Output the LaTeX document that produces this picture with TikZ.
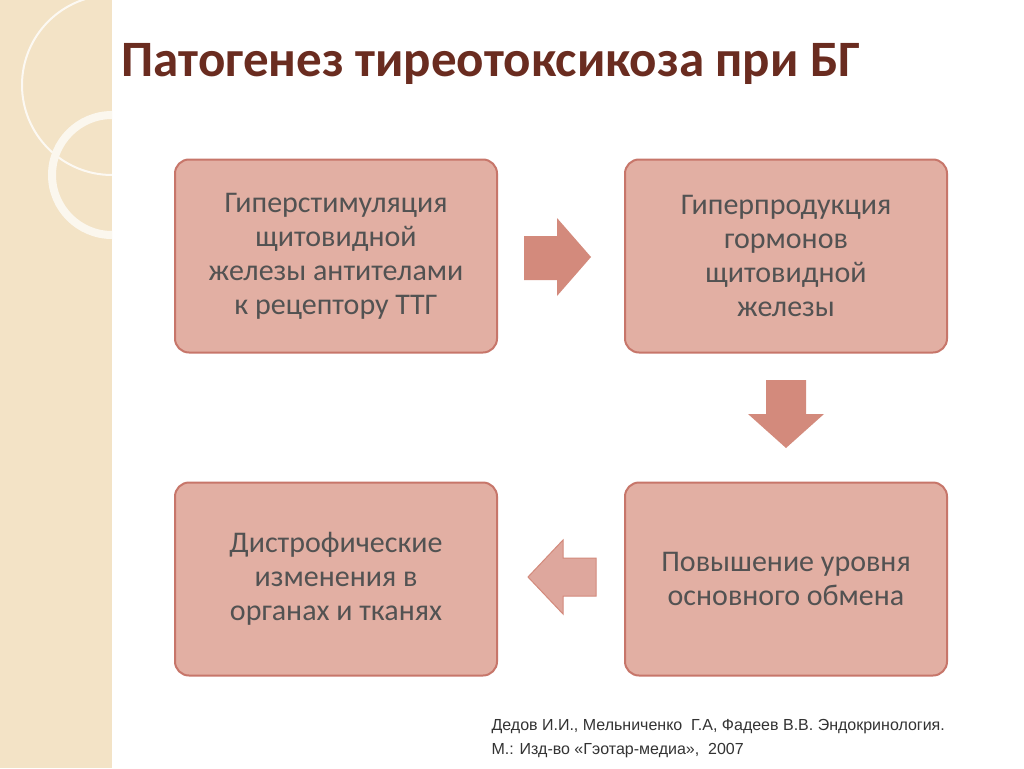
\documentclass[tikz,border=0pt]{standalone}
\usepackage{fontspec}
\setmainfont{Carlito}
\newfontfamily\citefont{Liberation Sans}
\definecolor{boxfill}{HTML}{E2AFA3}
\definecolor{boxline}{HTML}{C7766A}
\definecolor{arrowfill}{HTML}{D38A7C}
\definecolor{titlecol}{HTML}{6A2C20}
\definecolor{strip}{HTML}{F3E3C6}
\tikzset{
  stagebox/.style={draw=boxline,line width=2pt,fill=boxfill,rounded corners=14pt,
    minimum width=322pt,minimum height=193pt,align=center,
    font=\fontsize{30}{34}\selectfont,text=black!68},
  blockarrow/.style={fill=arrowfill,draw=none}
}
\begin{document}
\begin{tikzpicture}[x=1pt,y=-1pt]
  \useasboundingbox (0,0) rectangle (1024,768);
  \fill[white] (0,0) rectangle (1024,768);
  % left decorative strip
  \fill[strip] (0,0) rectangle (112,768);
  \begin{scope}
    \clip (0,0) rectangle (112,768);
    \draw[white,line width=2pt,opacity=0.8] (112,85) circle (90);
    \draw[white!70!strip,line width=8pt] (112,175) circle (60);
  \end{scope}
  \node[font=\bfseries\fontsize{51}{56}\selectfont,text=titlecol,anchor=west] (title) at (118,64) {Патогенез тиреотоксикоза при БГ};
  \node[stagebox] (hyperstim) at (336,256) {Гиперстимуляция\\щитовидной\\железы антителами\\к рецептору ТТГ};
  \node[stagebox] (hyperprod) at (786,256) {Гиперпродукция\\гормонов\\щитовидной\\железы};
  \node[stagebox] (metab) at (786,579) {Повышение уровня\\основного обмена};
  \node[stagebox] (dystro) at (336,579) {Дистрофические\\изменения в\\органах и тканях};
  % block arrows between the stages
  \fill[blockarrow] (524,236) -- (557,236) -- (557,218) -- (591,257) -- (557,296) -- (557,280) -- (524,280) -- cycle;
  \fill[blockarrow] (766,380) -- (806,380) -- (806,414) -- (824,414) -- (786,448) -- (748,414) -- (766,414) -- cycle;
  \filldraw[fill=arrowfill!75!white,draw=arrowfill,line width=1pt] (596,558) -- (563,558) -- (563,540) -- (528,577) -- (563,614) -- (563,596) -- (596,596) -- cycle;
  \node[font=\citefont\fontsize{16}{24}\selectfont,align=left,anchor=north west,text=black!80] (cite) at (488,716) {Дедов И.И., Мельниченко\ \ Г.А, Фадеев В.В. Эндокринология.\\М.: Изд-во «Гэотар-медиа»,\ \ 2007};
\end{tikzpicture}
\end{document}
